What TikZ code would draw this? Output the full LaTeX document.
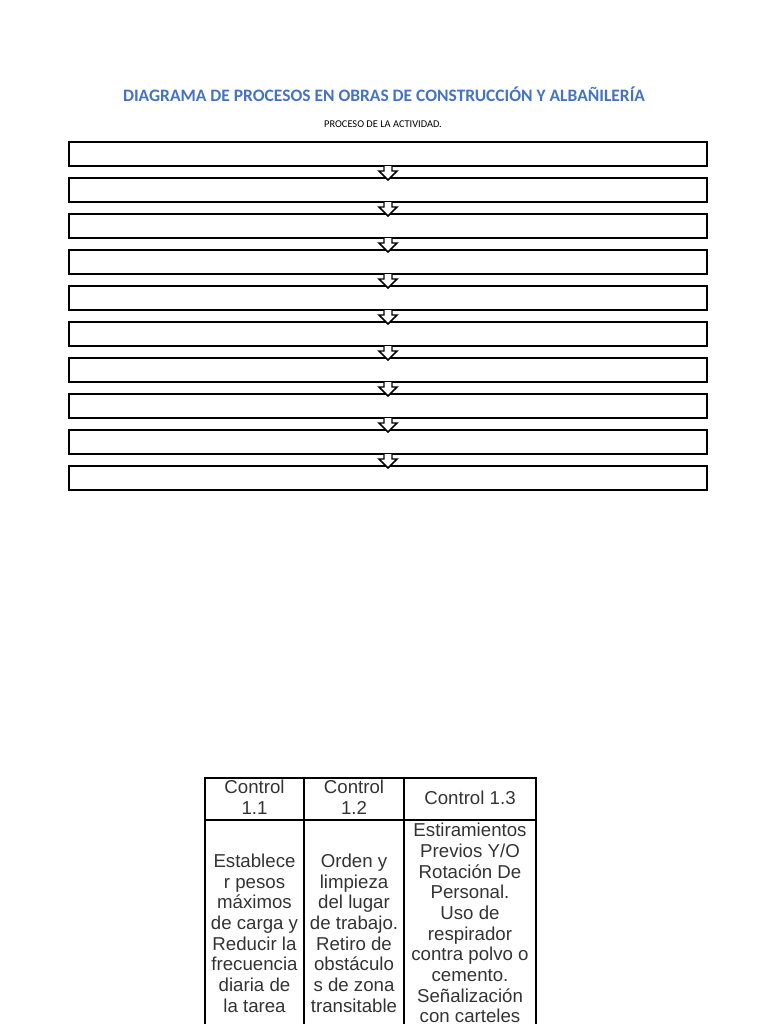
\documentclass[tikz,border=0pt]{standalone}
\usepackage{fontspec}
\setmainfont{Liberation Sans}
\newfontfamily\calib{Carlito}
\begin{document}
\begin{tikzpicture}[x=0.75pt,y=-0.75pt,
  procbox/.style={draw,line width=1.3pt},
  blockarrow/.style={draw,fill=white,line width=1.1pt,line join=miter},
  cell/.style={align=center,font=\fontsize{14}{15.5}\selectfont,inner sep=0pt,text=black!80}]
\useasboundingbox (0,0) rectangle (768,1024);
\definecolor{ttl}{RGB}{68,114,196}
\node[font=\calib\bfseries\fontsize{13.1}{15}\selectfont,text=ttl] (title) at (384,94) {DIAGRAMA DE PROCESOS EN OBRAS DE CONSTRUCCIÓN Y ALBAÑILERÍA};
\node[font=\calib\fontsize{7.8}{9}\selectfont] (sub) at (383,124) {PROCESO DE LA ACTIVIDAD.};
\foreach \i in {0,...,9}{
  \draw[procbox] (69,142+36*\i) rectangle (707,166+36*\i);
}
\foreach \i in {0,...,8}{
  \draw[blockarrow] (384,166+36*\i) -- (384,171+36*\i) -- (379,171+36*\i) -- (388,180+36*\i) -- (397,171+36*\i) -- (392,171+36*\i) -- (392,166+36*\i);
}
% table
\draw[line width=0.8pt] (205,1024) -- (205,778) -- (536,778) -- (536,1024);
\draw[line width=0.8pt] (205,820) -- (536,820);
\draw[line width=0.8pt] (304,778) -- (304,1024);
\draw[line width=0.8pt] (404,778) -- (404,1024);
\node[cell] (h1) at (254.5,797) {Control\\1.1};
\node[cell] (h2) at (354,797) {Control\\1.2};
\node[cell] (h3) at (470,798) {Control 1.3};
\node[cell] (c1) at (254.5,933) {Establece\\r pesos\\máximos\\de carga y\\Reducir la\\frecuencia\\diaria de\\la tarea};
\node[cell] (c2) at (354,933) {Orden y\\limpieza\\del lugar\\de trabajo.\\Retiro de\\obstáculo\\s de zona\\transitable};
\node[cell] (c3) at (470,923) {Estiramientos\\Previos Y/O\\Rotación De\\Personal.\\Uso de\\respirador\\contra polvo o\\cemento.\\Señalización\\con carteles};
\end{tikzpicture}
\end{document}
